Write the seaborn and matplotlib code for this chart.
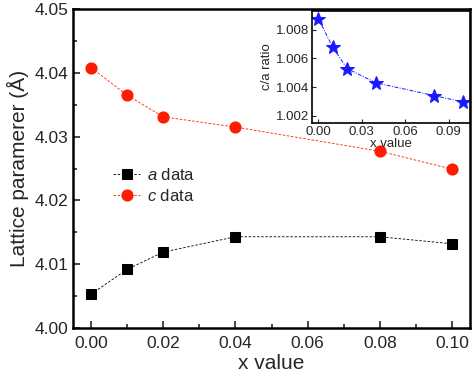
import matplotlib
matplotlib.use("Agg")
import matplotlib.pyplot as plt
import seaborn as sns
import numpy as np
import pandas as pd
from matplotlib.ticker import MultipleLocator

sns.set_style("ticks")
plt.rcParams['font.family'] = ['Liberation Sans', 'DejaVu Sans']
plt.rcParams['mathtext.fontset'] = 'custom'
plt.rcParams['mathtext.it'] = 'Liberation Sans:italic'
plt.rcParams['mathtext.rm'] = 'Liberation Sans'

x_vals = [0.00, 0.01, 0.02, 0.04, 0.08, 0.10]
a_data = [4.0053, 4.0092, 4.0119, 4.0143, 4.0143, 4.0132]
c_data = [4.0408, 4.0365, 4.0331, 4.0315, 4.0277, 4.0249]
ca_ratio = [1.00877, 1.00677, 1.00528, 1.00429, 1.00340, 1.00296]

x_ticks = [0.00, 0.02, 0.04, 0.06, 0.08, 0.10]
y_ticks = [4.00, 4.01, 4.02, 4.03, 4.04, 4.05]
inset_x_ticks = [0.00, 0.03, 0.06, 0.09]
inset_y_ticks = [1.002, 1.004, 1.006, 1.008]

df = pd.DataFrame({"x": x_vals, "a": a_data, "c": c_data, "ca": ca_ratio})

fig = plt.figure(figsize=(4.74, 3.77), dpi=100)
ax = fig.add_axes([0.154, 0.130, 0.838, 0.846])

sns.lineplot(data=df, x="x", y="a", ax=ax, color="black", lw=0.6, linestyle=(0, (3, 2)),
             marker="s", markersize=7, markeredgecolor="black", label="$a$ data")
sns.lineplot(data=df, x="x", y="c", ax=ax, color="#ff1a00", lw=0.6, linestyle=(0, (3, 2)),
             marker="o", markersize=8, markeredgecolor="#ff1a00", label="$c$ data")

ax.set_xlim(-0.005, 0.105)
ax.set_ylim(4.00, 4.05)
ax.set_xticks(x_ticks)
ax.set_xticklabels([f"{v:.2f}" for v in x_ticks])
ax.set_yticks(y_ticks)
ax.set_yticklabels([f"{v:.2f}" for v in y_ticks])
ax.xaxis.set_minor_locator(MultipleLocator(0.01))
ax.yaxis.set_minor_locator(MultipleLocator(0.005))
ax.tick_params(which="both", direction="in", labelsize=12.5, width=1.2)
ax.tick_params(which="major", length=5)
ax.tick_params(which="minor", length=3)
ax.tick_params(axis="x", pad=6)
for s in ax.spines.values():
    s.set_linewidth(1.8)
    s.set_color("black")
ax.set_xlabel("x value", fontsize=15, labelpad=2)
ax.set_ylabel("Lattice paramerer (Å)", fontsize=15, labelpad=4)

leg = ax.legend(loc="upper left", bbox_to_anchor=(0.085, 0.525), frameon=False,
                fontsize=12, handlelength=1.6, handletextpad=0.4, labelspacing=0.3,
                borderaxespad=0)

# inset
ins = fig.add_axes([0.658, 0.674, 0.334, 0.297])
sns.lineplot(data=df, x="x", y="ca", ax=ins, color="#1a1aff", lw=0.7, linestyle=(0, (4, 1.5, 1, 1.5)),
             marker="*", markersize=10, markeredgecolor="#1a1aff")
ins.set_xlim(-0.0044, 0.105)
ins.set_ylim(1.0015, 1.0093)
ins.set_xticks(inset_x_ticks)
ins.set_xticklabels([f"{v:.2f}" for v in inset_x_ticks])
ins.set_yticks(inset_y_ticks)
ins.set_yticklabels([f"{v:.3f}" for v in inset_y_ticks])
ins.tick_params(direction="in", labelsize=9.5, length=3, width=0.8, pad=2)
for s in ins.spines.values():
    s.set_linewidth(1.2)
    s.set_color("black")
ins.set_xlabel("x value", fontsize=9.5, labelpad=0)
ins.set_ylabel("c/a ratio", fontsize=9.5, labelpad=2)

fig.savefig("out.png", dpi=100)
